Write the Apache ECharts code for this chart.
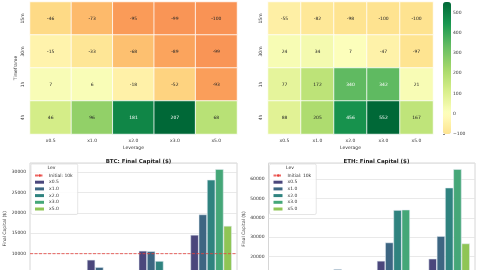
<!DOCTYPE html>
<html>
<head>
<meta charset="utf-8">
<title>Backtest summary</title>
<script src="https://cdn.jsdelivr.net/npm/echarts@6/dist/echarts.min.js"></script>
<style>
  html, body { margin: 0; padding: 0; background: #fff; }
  #main { width: 480px; height: 270px; }
</style>
</head>
<body>
<div id="main"></div>
<script>
// data
var timeframes = ['15m', '30m', '1h', '4h'];
var leverages = ['x0.5', 'x1.0', 'x2.0', 'x3.0', 'x5.0'];
// return (%) per timeframe row, leverage column
var btcReturn = [
    [-46, -73, -95, -99, -100],
    [-15, -33, -68, -89, -99],
    [7, 6, -18, -52, -93],
    [46, 96, 181, 207, 68]
];
var ethReturn = [
    [-55, -82, -98, -100, -100],
    [24, 34, 7, -47, -97],
    [77, 172, 340, 342, 21],
    [88, 205, 456, 552, 167]
];
// final capital ($) per leverage, across timeframes
var btcCapital = [
    [5400, 8500, 10700, 14600],
    [2700, 6700, 10600, 19600],
    [500, 3200, 8200, 28100],
    [100, 1100, 4800, 30700],
    [0, 100, 700, 16800]
];
var ethCapital = [
    [4500, 12400, 17700, 18800],
    [1800, 13400, 27200, 30500],
    [200, 10700, 44000, 55600],
    [0, 5300, 44200, 65200],
    [0, 300, 12100, 26700]
];
var initialCapital = 10000;
var colorbarTicks = [-100, 0, 100, 200, 300, 400, 500];

var FONT = 'DejaVu Sans';
var TXT = '#333333';
var RED = '#e8413c';
var barColors = ['#4b477c', '#3d6682', '#2f837f', '#45a778', '#8fc555'];

// RdYlGn colormap
var rdylgn = ['#a50026', '#d73027', '#f46d43', '#fdae61', '#fee08b', '#ffffbf',
    '#d9ef8b', '#a6d96a', '#66bd63', '#1a9850', '#006837'];
function hex2rgb(h) {
    return [parseInt(h.substr(1, 2), 16), parseInt(h.substr(3, 2), 16), parseInt(h.substr(5, 2), 16)];
}
function cmap(t) {
    t = Math.max(0, Math.min(1, t));
    var p = t * 10, i = Math.min(9, Math.floor(p)), f = p - i;
    var a = hex2rgb(rdylgn[i]), b = hex2rgb(rdylgn[i + 1]);
    var c = a.map(function (v, k) { return Math.round(v + (b[k] - v) * f); });
    return 'rgb(' + c.join(',') + ')';
}
// centered at 0 like seaborn's center=0
function rangeColors(min, max) {
    var vr = Math.max(Math.abs(min), Math.abs(max));
    var out = [];
    for (var k = 0; k <= 30; k++) {
        var v = min + (max - min) * k / 30;
        out.push(cmap((v + vr) / (2 * vr)));
    }
    return out;
}
function flat(m) { return [].concat.apply([], m); }

function heatData(ret) {
    var vmax = Math.max.apply(null, flat(ret));
    var d = [];
    ret.forEach(function (row, i) {
        row.forEach(function (v, j) {
            d.push({ value: [j, i, v], label: { color: v > vmax * 0.6 ? '#ffffff' : '#262626' } });
        });
    });
    return d;
}

var myChart = echarts.init(document.getElementById('main'));

var grids = [
    { left: 30, top: 2, width: 207, height: 132 },
    { left: 268, top: 2, width: 165, height: 132 },
    { left: 30, top: 163, width: 207, height: 131.5, show: true, borderColor: '#cccccc', borderWidth: 0.8 },
    { left: 268.5, top: 163, width: 206.5, height: 132, show: true, borderColor: '#cccccc', borderWidth: 0.8 },
    { left: 443, top: 2, width: 8, height: 132 }
];
grids.forEach(function (g) { g.outerBoundsMode = 'none'; g.containLabel = false; });

function heatX(idx) {
    return {
        type: 'category', gridIndex: idx, data: leverages, position: 'bottom',
        axisLine: { show: false }, axisTick: { show: false }, splitLine: { show: false },
        axisLabel: { fontSize: 4.5, color: TXT, fontFamily: FONT, margin: 4 },
        name: 'Leverage', nameLocation: 'middle', nameGap: 11,
        nameTextStyle: { fontSize: 4.5, color: TXT, fontFamily: FONT }
    };
}
function heatY(idx, name) {
    return {
        type: 'category', gridIndex: idx, data: timeframes, inverse: true,
        axisLine: { show: false }, axisTick: { show: false }, splitLine: { show: false },
        axisLabel: { fontSize: 4.5, color: TXT, fontFamily: FONT, rotate: 90, margin: 5 },
        name: name, nameLocation: 'middle', nameGap: 12,
        nameTextStyle: { fontSize: 4.5, color: TXT, fontFamily: FONT }
    };
}
function barX(idx) {
    return {
        type: 'category', gridIndex: idx, data: timeframes,
        axisLine: { show: false }, axisTick: { show: false },
        axisLabel: { fontSize: 4.5, color: TXT, fontFamily: FONT }
    };
}
// hidden 0..1 axis spanning the full plot width, for the horizontal reference line
function spanX(idx) {
    return { type: 'value', gridIndex: idx, min: 0, max: 1, show: false };
}
function barY(idx, max, interval) {
    return {
        type: 'value', gridIndex: idx, min: 0, max: max, interval: interval,
        axisLine: { show: false }, axisTick: { show: false },
        axisLabel: {
            fontSize: 4.5, color: TXT, fontFamily: FONT, margin: 4, showMaxLabel: false,
            formatter: function (v) { return String(v); }
        },
        splitLine: { lineStyle: { color: '#e3e3e3', width: 0.8 } },
        name: 'Final Capital ($)', nameLocation: 'middle', nameGap: 21,
        nameTextStyle: { fontSize: 4.5, color: TXT, fontFamily: FONT }
    };
}

var series = [
    {
        type: 'heatmap', xAxisIndex: 0, yAxisIndex: 0, data: heatData(btcReturn),
        label: { show: true, fontSize: 4.5, fontFamily: FONT, formatter: function (p) { return p.value[2]; } },
        itemStyle: { borderColor: '#ffffff', borderWidth: 0.8 }
    },
    {
        type: 'heatmap', xAxisIndex: 1, yAxisIndex: 1, data: heatData(ethReturn),
        label: { show: true, fontSize: 4.5, fontFamily: FONT, formatter: function (p) { return p.value[2]; } },
        itemStyle: { borderColor: '#ffffff', borderWidth: 0.8 }
    }
];

function addBars(capital, axisIdx, spanIdx) {
    capital.forEach(function (vals, k) {
        series.push({
            type: 'bar', name: leverages[k], xAxisIndex: axisIdx, yAxisIndex: axisIdx,
            data: vals, barGap: '0%', barCategoryGap: '20%',
            itemStyle: { color: barColors[k], borderColor: 'rgba(225,235,242,0.9)', borderWidth: 0.6 }
        });
    });
    series.push({
        type: 'line', name: 'Initial: 10k', xAxisIndex: spanIdx, yAxisIndex: axisIdx,
        data: [[0, initialCapital], [1, initialCapital]], z: 5,
        symbol: 'none', showSymbol: false, silent: true,
        color: RED, itemStyle: { color: RED },
        lineStyle: { color: RED, type: [3, 1.5], width: 1, opacity: 0.8 }
    });
}
addBars(btcCapital, 2, 5);
addBars(ethCapital, 3, 6);

var legendData = [{ name: 'Initial: 10k' }].concat(leverages.map(function (l, k) {
    return { name: l, icon: 'rect', itemStyle: { color: barColors[k], borderWidth: 0 } };
}));

function legendAt(left) {
    return {
        orient: 'vertical', left: left, top: 164, data: legendData,
        itemWidth: 9, itemHeight: 3, itemGap: 1.7, padding: [9, 5, 3, 3],
        backgroundColor: 'rgba(255,255,255,0.85)', borderColor: '#d4d4d4', borderWidth: 0.6,
        borderRadius: 1.5, selectedMode: false,
        textStyle: { fontSize: 4.5, color: TXT, fontFamily: FONT, lineHeight: 5 }
    };
}

var option = {
    backgroundColor: '#ffffff',
    animation: false,
    textStyle: { fontFamily: FONT },
    grid: grids,
    xAxis: [heatX(0), heatX(1), barX(2), barX(3),
        { type: 'value', gridIndex: 4, show: false, min: 0, max: 1 },
        spanX(2), spanX(3)],
    yAxis: [heatY(0, 'Timeframe'), heatY(1, ''), barY(2, 32200, 5000), barY(3, 68400, 10000),
        {
            type: 'value', gridIndex: 4, min: -100, max: 552, interval: 100, position: 'right',
            axisLine: { show: false }, splitLine: { show: false },
            axisTick: { show: true, length: 2, lineStyle: { color: TXT, width: 0.6 } },
            axisLabel: {
                fontSize: 4.5, color: TXT, fontFamily: FONT, margin: 2, showMaxLabel: false,
                formatter: function (v) {
                    return colorbarTicks.indexOf(v) < 0 ? '' : String(v).replace('-', '\u2212');
                }
            }
        }],
    visualMap: [
        {
            type: 'continuous', show: false, seriesIndex: 0, dimension: 2,
            min: -100, max: 207, inRange: { color: rangeColors(-100, 207) }
        },
        {
            type: 'continuous', show: true, seriesIndex: 1, dimension: 2,
            min: -100, max: 552, inRange: { color: rangeColors(-100, 552) },
            left: 443, top: 2, itemWidth: 8, itemHeight: 132, padding: 0,
            calculable: false, text: null, hoverLink: false
        }
    ],
    title: [
        {
            text: 'BTC: Final Capital ($)', left: 133.5, top: 153.5, textAlign: 'center',
            textStyle: { fontSize: 5.5, fontWeight: 'bold', color: '#262626', fontFamily: FONT }
        },
        {
            text: 'ETH: Final Capital ($)', left: 371.5, top: 153.5, textAlign: 'center',
            textStyle: { fontSize: 5.5, fontWeight: 'bold', color: '#262626', fontFamily: FONT }
        },
        {
            text: 'Lev', left: 51.5, top: 165.5, textAlign: 'center', z: 10, padding: 0,
            textStyle: { fontSize: 4.5, fontWeight: 'normal', color: TXT, fontFamily: FONT }
        },
        {
            text: 'Lev', left: 290, top: 165.5, textAlign: 'center', z: 10, padding: 0,
            textStyle: { fontSize: 4.5, fontWeight: 'normal', color: TXT, fontFamily: FONT }
        }
    ],
    legend: [legendAt(31), legendAt(269.5)],
    series: series
};

myChart.setOption(option);
</script>
</body>
</html>
